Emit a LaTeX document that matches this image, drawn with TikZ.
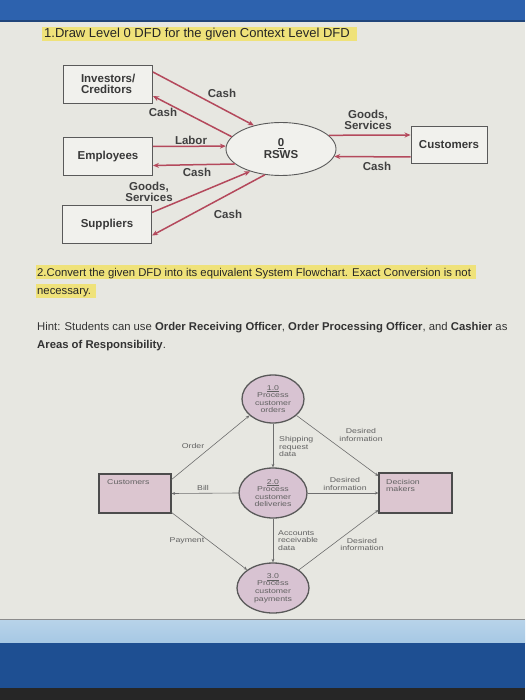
\documentclass[tikz,border=0pt]{standalone}
\usepackage{fontspec}
\setmainfont{Liberation Sans}
\newfontfamily\widefont[FakeStretch=1.25]{Liberation Sans}
\usetikzlibrary{arrows.meta,shapes.geometric}
\definecolor{bg}{HTML}{E7E7E1}
\definecolor{topblue}{HTML}{2D62AE}
\definecolor{hl}{HTML}{EFE27A}
\definecolor{red1}{HTML}{B4495C}
\definecolor{boxline}{HTML}{5A5A5A}
\definecolor{lilac}{HTML}{D8C3D2}
\definecolor{lilacbox}{HTML}{DCC6D0}
\definecolor{gline}{HTML}{6E6E6E}
\definecolor{lblue}{HTML}{A6C8E4}
\definecolor{dblue}{HTML}{1E4F92}
\begin{document}
\begin{tikzpicture}[x=1pt,y=-1pt,
  ctx/.style={draw=boxline, line width=0.9pt, fill=bg!60!white, minimum width=89pt, minimum height=38pt, inner sep=1pt, font=\fontsize{11.5}{11}\selectfont\bfseries, text=black!78, align=center},
  rarr/.style={draw=red1, line width=1.5pt, -{Stealth[length=6pt,width=5pt]}},
  rlbl/.style={font=\fontsize{11.5}{11}\selectfont\bfseries, text=black!75, align=center, inner sep=0pt},
  proc/.style={ellipse, draw=black!65, line width=1.3pt, fill=lilac, inner sep=0pt, font=\widefont\fontsize{7}{7.6}\selectfont, text=black!62, align=center},
  ebox/.style={draw=black!70, line width=1.2pt, fill=lilacbox, inner sep=0pt},
  garr/.style={draw=gline, line width=0.6pt, -{Stealth[length=3.5pt,width=3pt]}},
  glbl/.style={font=\widefont\fontsize{7}{7.6}\selectfont, text=black!62, align=center, inner sep=0pt},
  glbll/.style={font=\widefont\fontsize{7}{7.6}\selectfont, text=black!62, align=left, inner sep=0pt, anchor=west}
]
\useasboundingbox (0,0) rectangle (525,700);
% background
\fill[bg] (0,0) rectangle (525,700);
\fill[topblue] (0,0) rectangle (525,21);
\fill[topblue!70!black] (0,20) rectangle (525,22.5);
\draw[black!45, line width=0.8pt] (0,619) -- (525,619);
\shade[top color=lblue!80!white, bottom color=lblue] (0,620) rectangle (525,643);
\fill[dblue] (0,643) rectangle (525,688);
\fill[black!85] (0,688) rectangle (525,700);

% title
\fill[hl] (42,27) rectangle (357,41);
\node[anchor=base west, inner sep=0pt, font=\fontsize{13}{14}\selectfont, text=black!85] (t1) at (44,38) {1.Draw Level 0 DFD for the given Context Level DFD};

% context DFD
\node[ctx, text width=54pt, align=left] (inv) at (108,84) {Investors/\\Creditors};
\node[ctx] (emp) at (108,156.5) {Employees};
\node[ctx] (sup) at (107,224.5) {Suppliers};
\node[ctx, minimum width=76pt, minimum height=37pt] (cust) at (449,144.5) {Customers};
\node[ellipse, draw=boxline, line width=0.9pt, fill=bg!60!white, minimum width=110pt, minimum height=53pt, inner sep=0pt, font=\fontsize{11.5}{12}\selectfont\bfseries, text=black!78, align=center] (rsws) at (281,149) {\underline{0}\\RSWS};

\draw[rarr] ([yshift=12pt]inv.east) -- (rsws.139);
\draw[rarr] (rsws.166) -- ([yshift=-12pt]inv.east);
\draw[rarr] ([yshift=10pt]emp.east) -- (rsws.177);
\draw[rarr] (rsws.198) -- ([yshift=-9pt]emp.east);
\draw[rarr] ([yshift=12pt]sup.east) -- (rsws.216);
\draw[rarr] (rsws.238) -- ([yshift=-11pt]sup.east);
\draw[rarr] (rsws.16) -- ([yshift=9.5pt]cust.west);
\draw[rarr] ([yshift=-12.5pt]cust.west) -- (rsws.352);

\node[rlbl] (lc1) at (222,93) {Cash};
\node[rlbl] (lc2) at (163,112) {Cash};
\node[rlbl] (lla) at (191,140) {Labor};
\node[rlbl] (lc3) at (197,172) {Cash};
\node[rlbl] (lgs) at (149,192) {Goods,\\Services};
\node[rlbl] (lc4) at (228,214) {Cash};
\node[rlbl] (lgs2) at (368,120) {Goods,\\Services};
\node[rlbl] (lc5) at (377,166) {Cash};

% section 2 text
\fill[hl] (36,265) rectangle (476,279);
\fill[hl] (36,284) rectangle (96,298);
\node[anchor=base west, inner sep=0pt, font=\fontsize{11.3}{12}\selectfont, text=black!85] (t2) at (37,276) {2.Convert the given DFD into its equivalent System Flowchart. Exact Conversion is not};
\node[anchor=base west, inner sep=0pt, font=\fontsize{11.3}{12}\selectfont, text=black!85] (t3) at (37,294.5) {necessary.};
\node[anchor=base west, inner sep=0pt, font=\fontsize{11.3}{12}\selectfont, text=black!80] (t4) at (37,330) {Hint: Students can use \textbf{Order Receiving Officer}, \textbf{Order Processing Officer}, and \textbf{Cashier} as};
\node[anchor=base west, inner sep=0pt, font=\fontsize{11.3}{12}\selectfont\bfseries, text=black!80] (t5) at (37,348) {Areas of Responsibility\mdseries.};

% level 0 DFD
\node[proc, minimum width=62pt, minimum height=48pt] (p1) at (273,399) {\underline{1.0}\\Process\\customer\\orders};
\node[proc, minimum width=68pt, minimum height=50pt] (p2) at (273,493) {\underline{2.0}\\Process\\customer\\deliveries};
\node[proc, minimum width=72pt, minimum height=50pt] (p3) at (273,588) {\underline{3.0}\\Process\\customer\\payments};
\node[ebox, minimum width=72pt, minimum height=39pt] (cu) at (135,493.5) {};
\node[ebox, minimum width=73pt, minimum height=40pt] (dm) at (415.5,493) {};
\node[glbll] (cut) at (107,482) {Customers};
\node[glbll] (dmt) at (386,485.5) {Decision\\makers};

\draw[garr] ([yshift=14pt]cu.east) -- (p1.215);
\draw[garr] (p1.south) -- (p2.north);
\draw[garr] (p1.325) -- ([yshift=17pt]dm.west);
\draw[garr] (p2.west) -- (cu.east);
\draw[garr] (p2.east) -- (dm.west);
\draw[garr] (p2.south) -- (p3.north);
\draw[garr] ([yshift=-19pt]cu.east) -- (p3.145);
\draw[garr] (p3.35) -- ([yshift=-17pt]dm.west);

\node[glbl] (lo) at (193,446) {Order};
\node[glbll] (ls) at (279,446.5) {Shipping\\request\\data};
\node[glbl] (ld1) at (361,435) {Desired\\information};
\node[glbl] (lb) at (203,488) {Bill};
\node[glbl] (ld2) at (345,484) {Desired\\information};
\node[glbll] (la) at (278,540.5) {Accounts\\receivable\\data};
\node[glbl] (lp) at (187,541) {Payment};
\node[glbl] (ld3) at (362,544.5) {Desired\\information};
\end{tikzpicture}
\end{document}
